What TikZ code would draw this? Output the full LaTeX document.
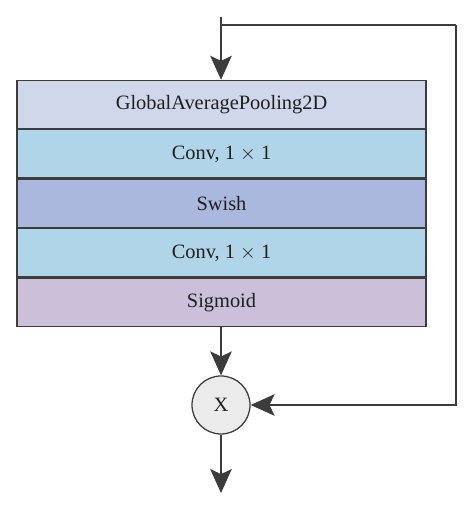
\documentclass[tikz,border=0pt]{standalone}
\usepackage{tikz}
\usetikzlibrary{positioning,arrows.meta}
\usepackage{fontspec}
\setmainfont{Liberation Serif}

\definecolor{poolcol}{RGB}{209,215,234}
\definecolor{convcol}{RGB}{177,213,232}
\definecolor{swishcol}{RGB}{170,184,221}
\definecolor{sigcol}{RGB}{203,191,218}
\definecolor{linecol}{RGB}{60,60,60}

\begin{document}
\begin{tikzpicture}[x=0.025cm,y=0.025cm,
        layer/.style={draw=linecol,line width=0.9pt,minimum width=10.225cm,minimum height=1.205cm,
                inner sep=0pt,font=\fontsize{14.5}{16}\selectfont,text=black!88},
        flow/.style={draw=linecol,line width=0.8pt,-{Stealth[length=6mm,width=5.4mm,inset=1.3mm]}},
        wire/.style={draw=linecol,line width=0.8pt}]
        \useasboundingbox (0,0) rectangle (474,510);
        % SE block, one layer under the other
        \node[layer,fill=poolcol] (pool) at (221.5,405.5) {GlobalAveragePooling2D};
        \node[layer,fill=convcol,below=0pt of pool] (conva) {Conv, 1 $\times$ 1};
        \node[layer,fill=swishcol,below=0pt of conva] (swish) {Swish};
        \node[layer,fill=convcol,below=0pt of swish] (convb) {Conv, 1 $\times$ 1};
        \node[layer,fill=sigcol,below=0pt of convb] (sig) {Sigmoid};
        \node[circle,draw=linecol,line width=0.9pt,fill=black!8,minimum size=1.45cm,
                font=\fontsize{14.5}{16}\selectfont,text=black!88] (mult) at (221,105) {X};
        \coordinate (in) at (221,493);
        \coordinate (split) at (221,485);
        \coordinate (corner) at (456,485);
        \coordinate (out) at (221,17);
        \path[flow] (in) -- (pool.north -| in);
        \path[flow] (sig.south -| mult) -- (mult);
        \path[flow] (mult) -- (out);
        \path[wire] (split) -- (corner);
        \path[flow] (corner) |- (mult);
\end{tikzpicture}
\end{document}
